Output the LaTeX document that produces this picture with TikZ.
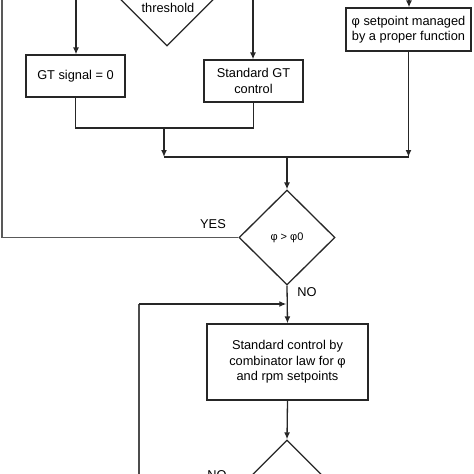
\documentclass[tikz,border=0pt]{standalone}
\usepackage{fontspec}
\setmainfont{Liberation Sans}
\usetikzlibrary{shapes.geometric,arrows.meta}
\begin{document}
\begin{tikzpicture}[x=1pt,y=-1pt,
 line/.style={draw=black!85, line width=1.3pt},
 arr/.style={line, -{Latex[length=7pt,width=6pt]}},
 box/.style={draw=black!85, line width=1.3pt, rectangle, inner sep=0pt, align=center, font=\fontsize{12.8}{15.5}\selectfont},
 dia/.style={draw=black!85, line width=1.3pt, diamond, inner sep=0pt, aspect=1},
 lbl/.style={font=\fontsize{12.8}{15}\selectfont, inner sep=0pt}]
\useasboundingbox (0,0) rectangle (474,474);
\begin{scope}
\clip (0,0) rectangle (474,474);
% nodes
\node[dia, minimum width=94pt, minimum height=94pt] (thr) at (167,-1) {};
\node[lbl] (thrt) at (168,8) {threshold};
\coordinate (tl) at (76,0);
\coordinate (tr) at (253,0);
\coordinate (tp) at (409,0);
\node[box, minimum width=99pt, minimum height=42pt] (gt0) at (75.5,76) {GT signal = 0};
\node[box, minimum width=99pt, minimum height=42pt] (gtc) at (253.5,81) {Standard GT\\control};
\node[box, minimum width=125pt, minimum height=43pt] (phis) at (408.5,29.5) {φ setpoint managed\\by a proper function};
\node[dia, minimum width=96pt, minimum height=95pt, font=\fontsize{11}{13}\selectfont] (dec) at (287,237.5) {φ > φ0};
\node[box, minimum width=161pt, minimum height=76pt] (std) at (287.5,362) {Standard control by\\combinator law for φ\\and rpm setpoints};
\node[dia, minimum width=96pt, minimum height=96pt] (dec2) at (287,488) {};
\node[lbl] (yes) at (213,224) {YES};
\node[lbl] (no1) at (307,292) {NO};
\node[lbl] (no2) at (217,475.5) {NO};
\coordinate (m1) at (164,128);
\coordinate (m2) at (164,157);
\coordinate (yl) at (2,0);
\coordinate (lp) at (139,304);
% connectors
\draw[arr] (tl) -- (tl |- gt0.north);
\draw[arr] (tr) -- (tr |- gtc.north);
\draw[arr] (tp) -- (tp |- phis.north);
\draw[line] (gt0.south) -- (gt0.south |- m1) -- (gtc.south |- m1) -- (gtc.south);
\draw[arr] (m1) -- (m2);
\draw[line] (m2) -- (phis.south |- m2);
\draw[arr] (phis.south) -- (phis.south |- m2);
\draw[arr] (dec.north |- m2) -- (dec.north);
\draw[line, draw=black!65] (dec.west) -| (yl);
\draw[arr] (dec.south) -- (std.north);
\draw[line, draw=black!70] (dec2.west) -| (lp);
\draw[arr] (lp) -- ([xshift=-0.7pt]dec.south |- lp);
\draw[arr] (std.south) -- (dec2.north);
\end{scope}
\end{tikzpicture}
\end{document}
